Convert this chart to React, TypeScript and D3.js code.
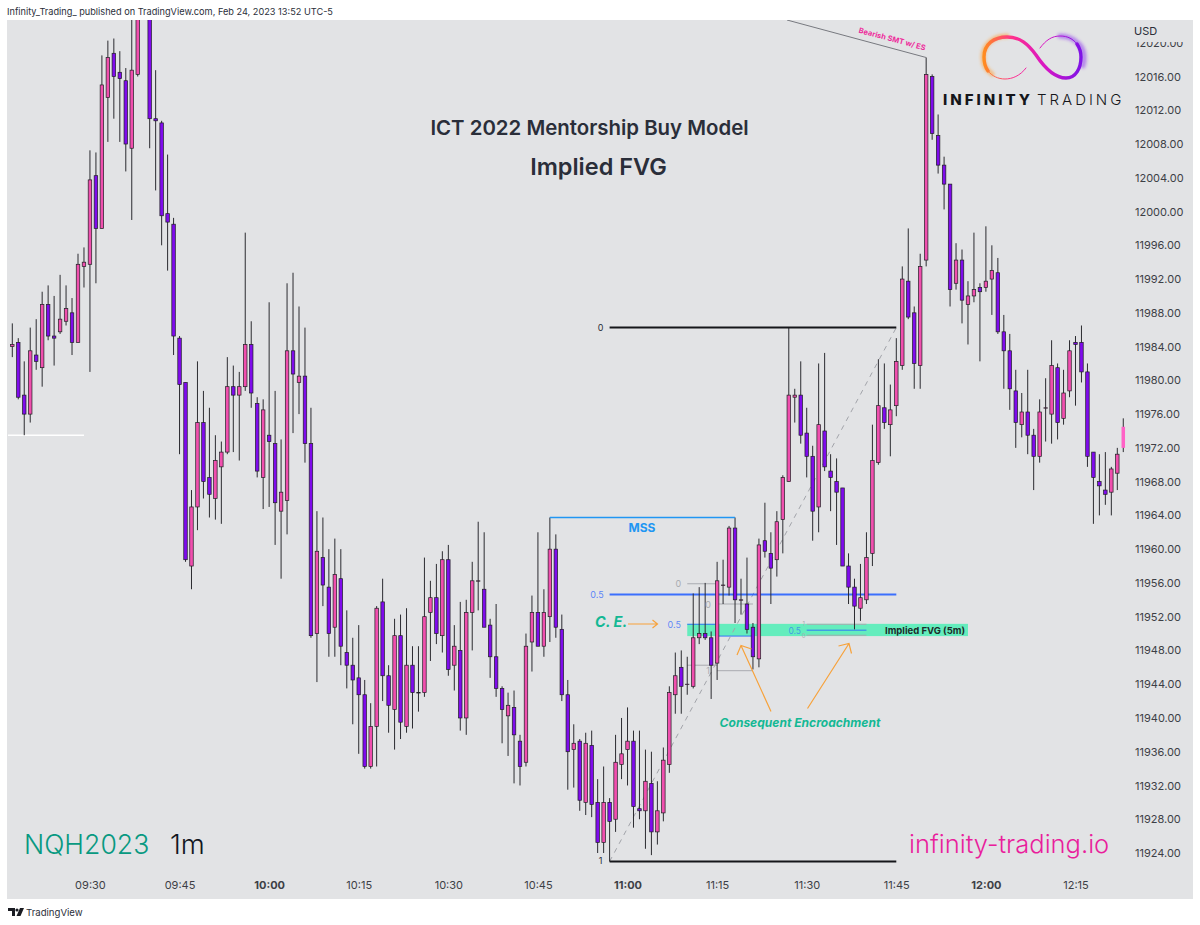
import { useEffect, useRef } from "react";
import * as d3 from "d3";

// NQH2023 1m bars, 09:17 to 12:23. Bars 21-23 run off the top of the pane.
const opens = [
  11984, 11984.5, 11978.25, 11976, 11983, 11981.5, 11989, 11985.25, 11985.75, 11987,
  11988, 11984.5, 11993.5, 11993.75, 12004.25, 11998, 12013.5, 12018.75, 12016.5, 12015.5,
  12007.5, 12016.25, 12036, 12030, 12011, 12010.5, 11999.75, 11998.5, 11985, 11979.75,
  11958, 11965, 11975, 11968.5, 11966, 11969.75, 11971.5, 11979.25, 11978.25, 11979.25,
  11984.25, 11977.25, 11968.5, 11973.5, 11972.5, 11964.5, 11965.75, 11983.5, 11979.75, 11980.5,
  11972.5, 11950, 11959, 11955.5, 11950.75, 11956.5, 11947.75, 11946.25, 11944.75, 11942.75,
  11934.25, 11939, 11953.75, 11945, 11941, 11949.75, 11939, 11946.25, 11943, 11943,
  11952.5, 11954.25, 11949.75, 11958.75, 11946.25, 11948, 11940, 11952.5, 11956.25, 11955.25,
  11951, 11947.25, 11943.5, 11940.25, 11941.25, 11937.25, 11934.75, 11949, 11952.5, 11948.5,
  11952, 11960, 11950.5, 11942.75, 11936.25, 11937.25, 11930, 11936.75, 11930, 11925.25,
  11930, 11928, 11934.5, 11936.25, 11937.25, 11929.25, 11929, 11932.25, 11926.5, 11928.75,
  11934.5, 11942.75, 11946, 11944, 11943.75, 11949.5, 11950, 11949.5, 11946.5, 11955.75,
  11955.5, 11962.5, 11954, 11953.5, 11950.75, 11947, 11961, 11959.5, 11958.75, 11963.5,
  11968, 11978, 11978.25, 11973.75, 11971, 11965, 11974, 11969.25, 11968, 11967.25,
  11958, 11955.5, 11953, 11954, 11959.5, 11970.25, 11976.75, 11974.75, 11977, 11981.75,
  11991.75, 11988, 11981.75, 11994.25, 12016, 12009, 12005.5, 12003.25, 11991.5, 11994.25,
  11989, 11990, 11991, 11991, 11992, 11992.75, 11985.75, 11983.5, 11978.75, 11974.75,
  11976.25, 11973.5, 11971, 11976.75, 11976, 11981.5, 11975.5, 11978.75, 11984.5, 11984.5,
  11981, 11971.5, 11968, 11967, 11966.75, 11969, 11972,
];
const closes = [
  11984.25, 11978, 11976, 11983.5, 11982.25, 11989, 11985.25, 11985, 11987.25, 11988.5,
  11984.5, 11993.75, 11994, 12003.75, 11998, 12015, 12018.25, 12016, 12015.75, 12008,
  12016.75, 12030, 12030, 12011, 12010.75, 11999.5, 11998.75, 11985.25, 11979.5, 11958.75,
  11965, 11975, 11968, 11966.5, 11970.5, 11971.5, 11979.25, 11978.25, 11979.25, 11984.25,
  11978.5, 11969.25, 11976.5, 11972.75, 11965.5, 11966.75, 11983.5, 11980.75, 11980.5, 11972.5,
  11949.75, 11959.75, 11955.75, 11950, 11957, 11948.5, 11946.25, 11944.5, 11942.75, 11934.25,
  11939, 11953, 11945, 11941.5, 11949.75, 11939.5, 11946.25, 11943, 11943, 11952,
  11954.25, 11950, 11958.75, 11945.75, 11948.5, 11940, 11952.5, 11956.25, 11956.25, 11950.75,
  11947.25, 11943.5, 11941, 11941.5, 11938, 11934.25, 11948.5, 11952.5, 11948.5, 11952.5,
  11960, 11950.75, 11942.75, 11936, 11937, 11930.25, 11937, 11929.75, 11925.25, 11930,
  11927.75, 11934.75, 11935.75, 11937.25, 11929.5, 11929, 11932.5, 11926.5, 11929, 11935,
  11943, 11945, 11943.75, 11944, 11949.5, 11950, 11949.5, 11946.25, 11956.25, 11955.75,
  11962.5, 11954, 11954, 11950.5, 11947.25, 11960.5, 11959.75, 11957.75, 11963.25, 11968.5,
  11978.25, 11978.25, 11973.5, 11971, 11964.5, 11974.75, 11969.75, 11968.5, 11966.75, 11958,
  11955.5, 11953.25, 11954.25, 11959, 11970.5, 11977, 11975, 11976.5, 11982.25, 11992,
  11987.5, 11982, 11993.5, 12016.25, 12009.25, 12005.5, 12003.25, 11990.75, 11994.25, 11989.5,
  11990, 11990.75, 11990.5, 11991.75, 11993, 11985.75, 11983.5, 11979, 11975, 11976.25,
  11973.5, 11971, 11976.25, 11976.75, 11981.75, 11975, 11978.5, 11983.5, 11984.25, 11981,
  11971, 11968.5, 11967.5, 11966.5, 11969.5, 11971.25, 11974.5,
];
const highs = [
  11986.75, 11985, 11982.25, 11986.25, 11987.25, 11990.5, 11991.25, 11990, 11992.5, 11991.25,
  11989.75, 11995, 11995.75, 12007.25, 12007, 12018.5, 12020.25, 12020.5, 12019, 12017,
  12026, 12032, 12040, 12032, 12016.75, 12010.75, 12006.75, 11999.25, 11985.25, 11979.75,
  11967, 11982.25, 11978.75, 11976.75, 11973.5, 11972.75, 11982.75, 11981.75, 11981, 11997.5,
  11987, 11978, 11977.75, 11989.25, 11978.75, 11973, 11991.5, 11992.75, 11988.75, 11986.25,
  11976.75, 11964.5, 11963.75, 11960, 11961.25, 11960, 11952.75, 11949.5, 11951, 11944.5,
  11941.75, 11953.25, 11956.5, 11946.25, 11951.75, 11952.25, 11953, 11948.5, 11948.5, 11959,
  11956.25, 11958.25, 11959.75, 11960.5, 11951, 11953.75, 11954, 11958.5, 11963.25, 11962,
  11951.75, 11953.5, 11943.75, 11943, 11943.25, 11938, 11950, 11954.5, 11962, 11955.25,
  11963.75, 11961.75, 11952.25, 11944.5, 11939.25, 11937.5, 11938.25, 11938.5, 11932.75, 11934.25,
  11930.5, 11938, 11940, 11941.25, 11938.5, 11938.5, 11936.25, 11936, 11932.5, 11936.5,
  11943.75, 11947.75, 11948, 11947.25, 11954.75, 11955.5, 11956, 11950.25, 11958.5, 11958.75,
  11962.75, 11963.75, 11956.5, 11959, 11951.25, 11961.25, 11965.5, 11962, 11964.5, 11968.75,
  11986.25, 11979, 11982.25, 11976.75, 11972.25, 11982, 11983.25, 11971.25, 11970.75, 11967.25,
  11959.5, 11956.5, 11958.25, 11962, 11974.75, 11982.5, 11982, 11979.5, 11985, 11993.5,
  11998, 11988.75, 11995, 12018.25, 12016.25, 12011.5, 12006.5, 12003.25, 11996.25, 11995.5,
  11991.75, 11997.5, 11991.5, 11998.25, 11996, 11994.5, 11987.75, 11985.5, 11981.25, 11978.5,
  11981.25, 11974.25, 11977.75, 11980.25, 11984.75, 11982, 11981.25, 11984.75, 11985.25, 11986.5,
  11982, 11971.5, 11971.25, 11971.5, 11969.75, 11972, 11975.5,
];
const lows = [
  11982.75, 11977.75, 11973.5, 11975, 11981.25, 11979.25, 11984.75, 11981.75, 11985.5, 11986.5,
  11983, 11984.5, 11991, 11981, 11991.5, 11998, 12008.25, 12011, 12008.25, 12004.75,
  11999, 12016, 12028, 12007.5, 12002.5, 11996, 11993, 11983, 11971.25, 11958.5,
  11955.25, 11962.25, 11966, 11963.75, 11963.5, 11963, 11971.25, 11971.5, 11970.5, 11978.75,
  11976.75, 11968.5, 11964.75, 11965, 11960.5, 11956.5, 11961.75, 11973.75, 11976, 11970.25,
  11949.5, 11944.25, 11953.25, 11947.25, 11947.25, 11946.25, 11943.5, 11939.25, 11935.75, 11934,
  11934, 11934.25, 11942, 11938.25, 11936.25, 11937.5, 11938.25, 11938.75, 11940.75, 11942.5,
  11946.75, 11948.75, 11947.75, 11945, 11943.25, 11938.5, 11938, 11948, 11952.75, 11950.75,
  11944.75, 11942.5, 11937, 11935.5, 11932.25, 11932, 11934.25, 11945.5, 11948.5, 11947.25,
  11949, 11949.5, 11942, 11931.5, 11931.75, 11929, 11928.5, 11928.25, 11924, 11924,
  11923, 11926.5, 11932.75, 11932, 11927, 11928, 11924.5, 11923.75, 11925, 11927.75,
  11933.5, 11940.5, 11940.5, 11942.75, 11943.5, 11948.75, 11949.25, 11942.25, 11944.5, 11953.5,
  11954.5, 11951.25, 11952.25, 11950, 11945.75, 11946, 11959, 11953.5, 11956.75, 11959.5,
  11968, 11975, 11972.5, 11968.5, 11961, 11962, 11969.25, 11964.5, 11960.5, 11958,
  11953.5, 11950.5, 11951.5, 11953.5, 11958, 11970, 11974.25, 11971, 11975.75, 11981.25,
  11987.25, 11979, 11979, 11993.5, 12008.5, 12004.5, 12000.25, 11988.75, 11990.75, 11986.75,
  11984.25, 11989.25, 11982.25, 11990.5, 11987.75, 11985.5, 11979, 11976.5, 11972, 11973.25,
  11971.25, 11967, 11970.25, 11972.75, 11972.5, 11973, 11974.75, 11978, 11977, 11979.75,
  11969.75, 11963, 11964, 11965.25, 11964, 11967, 11971.5,
];

const priceTicks = d3.range(11924, 12021, 4);
const timeTicks = ["09:30", "09:45", "10:00", "10:15", "10:30", "10:45", "11:00", "11:15", "11:30", "11:45", "12:00", "12:15"];
const boldTimes = ["10:00", "11:00", "12:00"];

// drawn levels, in price
const dealingHigh = 11986.25;
const dealingLow = 11923;
const mssLevel = 11963.75;
const fvgTop = 11951.15;
const fvgBottom = 11949.7;
const swingLevel = 11973.5;
const smallFibA = [11955.9, 11951.1, 11946.25];
const smallFibB = [11953.5, 11949.7, 11945.6];
const smallFibC = [11951.1, 11950.4, 11949.8];

const width = 1200;
const height = 925;
const pane = { left: 7, right: 1193, top: 20, bottom: 899 };
const upColor = "#f04fae";
const downColor = "#7f0bec";
const liveColor = "#ff62c6";
const wickColor = "#2b2b30";
const blue = "#2962ff";
const teal = "#14b894";
const orange = "#f7a23b";
const font = "Inter, 'Noto Sans', sans-serif";

const day = (h: number, m: number) => new Date(2023, 1, 24, h, m);
const parseTime = d3.timeParse("%Y-%m-%d %H:%M");
const timeAt = (i: number) => day(9, 17 + i);

const x = d3
  .scaleTime()
  .domain([timeAt(0), timeAt(186)])
  .range([12.3, 12.3 + 186 * 5.973]);
const y = d3.scaleLinear().domain([11924, 12016]).range([853, 76.5]);
const xi = (i: number) => x(timeAt(i));

const App = () => {
  const yAxisRef = useRef<SVGGElement | null>(null);
  const xAxisRef = useRef<SVGGElement | null>(null);

  useEffect(() => {
    d3.select(yAxisRef.current)
      .call(
        d3
          .axisRight(y)
          .tickValues(priceTicks)
          .tickSize(0)
          .tickPadding(0)
          .tickFormat((d: any) => d3.format(".2f")(d))
      )
      .call((g: any) => g.select(".domain").remove());

    const tickDates = timeTicks.map((t) => parseTime("2023-02-24 " + t) as Date);
    d3.select(xAxisRef.current)
      .call(
        d3
          .axisBottom(x)
          .tickValues(tickDates)
          .tickSize(0)
          .tickPadding(0)
          .tickFormat((d: any) => d3.timeFormat("%H:%M")(d))
      )
      .call((g: any) => g.select(".domain").remove());

    d3.select(yAxisRef.current)
      .selectAll("text")
      .attr("fill", "#3d3f46")
      .attr("font-family", font)
      .attr("font-size", 11);
    d3.select(xAxisRef.current)
      .selectAll("text")
      .attr("fill", "#3d3f46")
      .attr("font-family", font)
      .attr("font-size", 11)
      .attr("font-weight", (d: any) =>
        boldTimes.includes(d3.timeFormat("%H:%M")(d)) ? 700 : 400
      );
  }, []);

  const fibLines = (levels: number[], from: number, to: number) =>
    levels.map((p, k) => (
      <line
        key={from + "-" + k}
        x1={xi(from)}
        x2={xi(to)}
        y1={y(p)}
        y2={y(p)}
        stroke={k === 1 ? blue : "#a9abb0"}
        strokeOpacity={k === 1 ? 0.85 : 1}
        strokeWidth={1}
      />
    ));

  const fibMid = (dealingHigh + dealingLow) / 2;

  return (
    <svg
      width={width}
      height={height}
      style={{ position: "absolute", left: 0, top: 0, display: "block", background: "#fff" }}
      fontFamily={font}
    >
      <defs>
        <clipPath id="pane">
          <rect x={pane.left} y={pane.top} width={pane.right - pane.left} height={pane.bottom - pane.top} />
        </clipPath>
        <clipPath id="price-scale">
          <rect x={1128} y={42} width={65} height={840} />
        </clipPath>
        <linearGradient id="logo" gradientUnits="userSpaceOnUse" x1={983} x2={1083} y1={0} y2={0}>
          <stop offset="0%" stopColor="#ff8f1c" />
          <stop offset="30%" stopColor="#ff2f8e" />
          <stop offset="62%" stopColor="#d816c4" />
          <stop offset="100%" stopColor="#7a12e8" />
        </linearGradient>
        <filter id="glow" x="-20%" y="-20%" width="140%" height="140%">
          <feGaussianBlur stdDeviation="1.6" />
        </filter>
      </defs>

      <text x={7} y={15} fontSize={9.2} fill="#2a2e39">
        Infinity_Trading_ published on TradingView.com, Feb 24, 2023 13:52 UTC-5
      </text>

      <rect x={pane.left} y={pane.top} width={pane.right - pane.left} height={pane.bottom - pane.top} fill="#e2e3e5" />

      <g clipPath="url(#pane)">
        {/* implied fvg zone sits under the bars */}
        <rect
          x={xi(113)}
          width={xi(160) - xi(113)}
          y={y(fvgTop)}
          height={y(fvgBottom) - y(fvgTop)}
          fill="#64edbd"
        />

        <line x1={8} x2={xi(12)} y1={y(swingLevel)} y2={y(swingLevel)} stroke="#ffffff" strokeWidth={1.5} />

        {fibLines(smallFibA, 113, 118)}
        {fibLines(smallFibB, 118, 124)}
        {fibLines(smallFibC, 133, 143)}

        <line
          x1={xi(100)}
          y1={y(dealingLow)}
          x2={xi(148)}
          y2={y(dealingHigh)}
          stroke="#a2a4aa"
          strokeWidth={1}
          strokeDasharray="5 5"
        />
        <line x1={xi(100)} x2={xi(148)} y1={y(fibMid)} y2={y(fibMid)} stroke={blue} strokeOpacity={0.9} strokeWidth={2} />

        {opens.map((o, i) => {
          const c = closes[i];
          const up = c >= o;
          const top = y(Math.max(o, c));
          const bottom = y(Math.min(o, c));
          const cx = xi(i);
          const live = i === opens.length - 1;
          return (
            <g key={i}>
              <line x1={cx} x2={cx} y1={y(highs[i])} y2={y(lows[i])} stroke={wickColor} strokeWidth={1} />
              <rect
                x={cx - 1.75}
                y={top}
                width={3.5}
                height={Math.max(bottom - top, 0.4)}
                fill={live ? liveColor : up ? upColor : downColor}
                stroke={live ? "none" : "#1f1f24"}
                strokeWidth={0.7}
              />
            </g>
          );
        })}

        <line x1={xi(100)} x2={xi(148)} y1={y(dealingHigh)} y2={y(dealingHigh)} stroke="#15161a" strokeWidth={2} />
        <line x1={xi(100)} x2={xi(148)} y1={y(dealingLow)} y2={y(dealingLow)} stroke="#15161a" strokeWidth={2} />
        <line x1={xi(90)} x2={xi(121)} y1={y(mssLevel)} y2={y(mssLevel)} stroke="#2196f3" strokeWidth={1.6} />

        {/* smt line */}
        <line x1={787} y1={20} x2={xi(153)} y2={y(12018.25)} stroke="#77797f" strokeWidth={1} />
      </g>

      <text x={xi(100) - 9} y={y(dealingHigh) + 3} fontSize={9} textAnchor="middle" fill="#2a2e39">0</text>
      <text x={xi(100) - 9} y={y(dealingLow) + 3} fontSize={9} textAnchor="middle" fill="#2a2e39">1</text>
      <text x={597} y={y(fibMid) + 3.5} fontSize={9} textAnchor="middle" fill={blue} fillOpacity={0.75}>0.5</text>

      <text x={xi(113) - 9} y={y(smallFibA[0]) + 3.5} fontSize={9} textAnchor="middle" fill="#a9abb0">0</text>
      <text x={xi(113) - 13} y={y(smallFibA[1]) + 3.5} fontSize={9} textAnchor="middle" fill={blue} fillOpacity={0.7}>0.5</text>
      <text x={xi(118) - 9} y={y(smallFibB[0]) + 3.5} fontSize={9} textAnchor="middle" fill="#a9abb0">0</text>
      <text x={xi(118) - 9} y={y(smallFibB[2]) + 3.5} fontSize={9} textAnchor="middle" fill="#a9abb0">1</text>
      <text x={xi(133) - 12} y={y(smallFibC[1]) + 3.5} fontSize={8.5} textAnchor="middle" fill={blue} fillOpacity={0.6}>0.5</text>
      <text x={xi(133) - 3} y={y(smallFibC[0]) + 2} fontSize={6} textAnchor="middle" fill="#a9abb0">1</text>
      <text x={xi(133) - 3} y={y(smallFibC[2]) + 3} fontSize={6} textAnchor="middle" fill="#a9abb0">0</text>

      <text x={642} y={532} fontSize={12} fontWeight={700} textAnchor="middle" fill="#2196f3">MSS</text>
      <text x={925} y={634} fontSize={9.5} fontWeight={700} textAnchor="middle" fill="#1d2b2a">Implied FVG (5m)</text>
      <text x={595} y={627} fontSize={14.5} fontWeight={700} fontStyle="italic" fill={teal}>C. E.</text>
      <text x={800} y={727} fontSize={12.05} fontWeight={700} fontStyle="italic" textAnchor="middle" fill={teal}>Consequent Encroachment</text>

      <g fill="none" stroke={orange} strokeWidth={1.2}>
        <path d="M628,624 H657 M652.5,620 L657.5,624 L652.5,628" />
        <path d="M771,711.5 L741,645.5 M737,655 L741,645.5 L751.5,649" />
        <path d="M807.5,708.5 L849,643.5 M838.5,646 L849,643.5 L851.5,653.5" />
      </g>

      <text
        transform="translate(891.5,41.5) rotate(15)"
        fontSize={7.5}
        fontWeight={700}
        textAnchor="middle"
        fill="#ee2a9b"
      >
        Bearish SMT w/ ES
      </text>

      <text x={589.5} y={135} fontSize={20.4} fontWeight={600} textAnchor="middle" fill="#2a2e39">ICT 2022 Mentorship Buy Model</text>
      <text x={598.5} y={175} fontSize={23.5} fontWeight={600} textAnchor="middle" fill="#2a2e39">Implied FVG</text>

      {/* logo */}
      <g fill="none" strokeLinecap="round">
        <path
          d="M992,74 C986,70 983,64 983,57 C983,44 994,36 1007,36"
          stroke="#ff9a2e"
          strokeOpacity={0.55}
          strokeWidth={5}
          filter="url(#glow)"
        />
        <path
          d="M1083,66 C1085,60 1085,50 1079,44 C1074,39 1068,36 1060,36"
          stroke="#8a2bf0"
          strokeOpacity={0.5}
          strokeWidth={5}
          filter="url(#glow)"
        />
        <path
          d="M1026,68 C1020,76 1012,79 1005,79 C998,79 992,76 988,71"
          stroke="url(#logo)"
          strokeWidth={1}
        />
        <path
          d="M1040,48 C1046,40 1052,36 1060,36 C1068,36 1073,39 1077,44"
          stroke="url(#logo)"
          strokeWidth={1}
        />
        <path
          d="M988,71 C985,67 984,62 984,57 C984,44 994,37 1007,37 C1020,37 1028,44 1036,55 C1044,67 1054,78 1066,78 C1076,78 1081,68 1081,57 C1081,51 1079,47 1077,44"
          stroke="url(#logo)"
          strokeWidth={3.4}
        />
      </g>
      <text x={943} y={105} fontSize={15} fontWeight={800} letterSpacing={3} fill="#15161a">INFINITY</text>
      <text x={1037} y={105} fontSize={15} fontWeight={300} letterSpacing={3} fill="#15161a">TRADING</text>

      <text x={24} y={854} fontSize={26.6} fontWeight={300} fill="#089981">NQH2023</text>
      <text x={170} y={854} fontSize={27.5} fontWeight={300} fill="#131722">1m</text>
      <text x={909} y={853} fontSize={25.5} fontWeight={300} fill="#e91e9c">infinity-trading.io</text>

      <text x={1134} y={35} fontSize={11} fill="#2a2e39">USD</text>

      <g clipPath="url(#price-scale)">
        <g ref={yAxisRef} transform="translate(1135,0)" />
      </g>
      <g ref={xAxisRef} transform="translate(0,881)" />

      {/* tradingview mark */}
      <g fill="#1a1c22">
        <path d="M8,908 H15 V916 H12 V911 H8 Z" />
        <circle cx={17} cy={910} r={1.6} />
        <path d="M20,908 H24 L20.5,916 H16.5 Z" />
      </g>
      <text x={26} y={916} fontSize={9.6} fill="#2a2e39">TradingView</text>
    </svg>
  );
};

export default App;
